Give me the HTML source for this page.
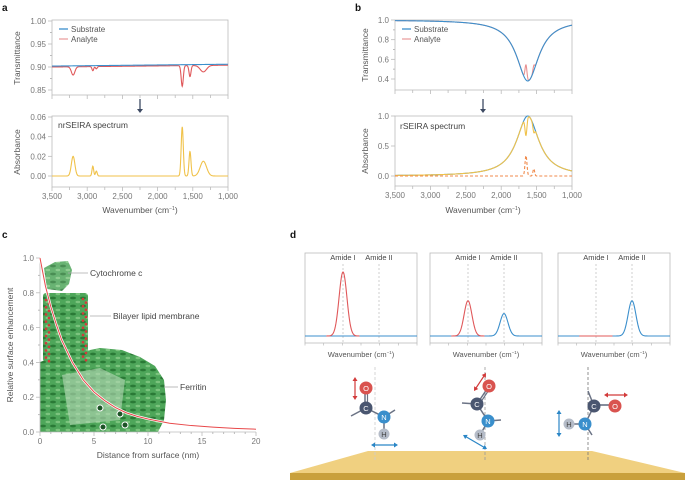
<!DOCTYPE html>
<html><head><meta charset="utf-8"><style>
html,body{margin:0;padding:0;background:#fff}
svg{display:block;font-family:"Liberation Sans",sans-serif}
</style></head><body>
<svg id="fig" width="685" height="480" viewBox="0 0 685 480"></svg>
<script>
// ---------- DATA ----------
const wnTicks=[3500,3000,2500,2000,1500,1000];
const wnTickLabels=["3,500","3,000","2,500","2,000","1,500","1,000"];
const aTransTicks=[0.85,0.90,0.95,1.00];
const aTransTickLabels=["0.85","0.90","0.95","1.00"];
const aAbsTicks=[0,0.02,0.04,0.06];
const aAbsTickLabels=["0.00","0.02","0.04","0.06"];
const aSubstrateStart=0.902, aSubstrateEnd=0.906;
const aPeakCenters=[3200,2920,2870,1650,1540,1350];
const aPeakAbs=[0.020,0.010,0.005,0.050,0.025,0.015];
const aPeakWidths=[25,12,12,15,14,45];
const aPeakTransDepth=[0.018,0.009,0.005,0.045,0.024,0.014];
const bTransTicks=[0.4,0.6,0.8,1.0];
const bTransTickLabels=["0.4","0.6","0.8","1.0"];
const bAbsTicks=[0,0.5,1.0];
const bAbsTickLabels=["0.0","0.5","1.0"];
const bResCenter=1625, bResWidth=190, bResDepth=0.62;
const bPeakCenters=[1650,1540];
const bPeakHeights=[0.34,0.12];
const bPeakWidths=[14,12];
const cDist=[0,0.5,1,1.5,2,3,4,5,6,7,8,9,10,12,14,16,18,20];
const cEnh=[1.0,0.84,0.72,0.62,0.53,0.40,0.30,0.23,0.18,0.14,0.11,0.09,0.075,0.05,0.037,0.028,0.021,0.016];
const cXTicks=[0,5,10,15,20];
const cYTicks=[0,0.2,0.4,0.6,0.8,1.0];
const cYTickLabels=["0.0","0.2","0.4","0.6","0.8","1.0"];
const dAmideI=[1.0,0.55,0.0];
const dAmideII=[0.0,0.35,0.55];

// ---------- HELPERS ----------
const NS="http://www.w3.org/2000/svg";
const svg=document.getElementById('fig');
function mk(tag,attrs,parent){const e=document.createElementNS(NS,tag);for(const k in attrs)e.setAttribute(k,attrs[k]);(parent||svg).appendChild(e);return e;}
function txt(x,y,s,size,anchor,fill,parent){const t=mk('text',{x:x,y:y,'font-size':size,'text-anchor':anchor||'start',fill:fill||'#555'},parent);t.textContent=s;return t;}
function lin(a,b,c,d){return v=>c+(v-a)/(b-a)*(d-c);}
function path(pts){return pts.map((p,i)=>(i?'L':'M')+p[0].toFixed(2)+' '+p[1].toFixed(2)).join(' ');}
function gauss(x,c,w){return Math.exp(-0.5*((x-c)/w)**2);}
function lor(x,c,w){return 1/(1+((x-c)/w)**2);}
const GREY='#bbb', TXT='#555', BLUE='#3b8fcc', RED='#e0585a', YEL='#f0c24a', ORA='#f08a4b';

function frame(x0,y0,x1,y1,name){const r=mk('rect',{x:x0,y:y0,width:x1-x0,height:y1-y0,fill:'none',stroke:GREY,'stroke-width':0.8});return r;}
function yAxis(X0,ys,ticks,labels,name){const g=mk('g',{});
 ticks.forEach((t,i)=>{const y=ys(t);mk('line',{x1:X0-4,x2:X0,y1:y,y2:y,stroke:GREY,'stroke-width':0.8},g);txt(X0-6,y+3,labels[i],8,'end','#777',g);});return g;}
function xAxis(xs,Y,ticks,labels,name,minor){const g=mk('g',{});
 ticks.forEach((t,i)=>{const x=xs(t);mk('line',{x1:x,x2:x,y1:Y,y2:Y+4,stroke:GREY,'stroke-width':0.8},g);if(labels)txt(x,Y+12,labels[i],8,'middle','#777',g);});
 if(minor)for(let i=0;i<ticks.length-1;i++){const x=(xs(ticks[i])+xs(ticks[i+1]))/2;mk('line',{x1:x,x2:x,y1:Y,y2:Y+3,stroke:GREY,'stroke-width':0.8},g);}return g;}
function curve(pts,color,name,dash,w){const p=mk('path',{d:path(pts),fill:'none',stroke:color,'stroke-width':w||1.1});if(dash)p.setAttribute('stroke-dasharray',dash);return p;}
function arrowDown(x,y0,y1){mk('line',{x1:x,x2:x,y1:y0,y2:y1-3,stroke:'#3d4a63','stroke-width':1.3});mk('path',{d:`M${x-3} ${y1-4} L${x+3} ${y1-4} L${x} ${y1} Z`,fill:'#3d4a63'});}
function legend(x,y){const g=mk('g',{});
 mk('line',{x1:x,x2:x+9,y1:y,y2:y,stroke:BLUE,'stroke-width':1.3},g);txt(x+12,y+3,'Substrate',8,'start',TXT,g);
 mk('line',{x1:x,x2:x+9,y1:y+10,y2:y+10,stroke:'#eba0a0','stroke-width':1.3},g);txt(x+12,y+13,'Analyte',8,'start',TXT,g);}
function sample(a,b,n){const r=[];for(let i=0;i<=n;i++)r.push(a+(b-a)*i/n);return r;}

[['a',2,11],['b',355,11],['c',2,238],['d',290,238]].forEach(l=>{const t=txt(l[1],l[2],l[0],10,'start','#111');t.setAttribute('font-weight','bold');});

// ---------- PANEL A ----------
(function(){
 const xs=lin(3500,1000,52,228);
 const yT=lin(1.0,0.85,21,90), yA=lin(0.06,0,117,176);
 frame(52,20,228,95,'a-top-frame');frame(52,116,228,187,'a-bottom-frame');
 yAxis(52,yT,aTransTicks,aTransTickLabels,'a-top-y-axis');
 [0.875,0.925,0.975].forEach(v=>mk('line',{x1:50,x2:52,y1:yT(v),y2:yT(v),stroke:GREY}));
 yAxis(52,yA,aAbsTicks,aAbsTickLabels,'a-bottom-y-axis');
 xAxis(xs,95,wnTicks,null,'a-top-x-axis',true);
 xAxis(xs,187,wnTicks,wnTickLabels,'a-bottom-x-axis',true);
 let t=txt(0,0,'Transmittance',8.5,'middle',TXT);t.setAttribute('transform','translate(20,58) rotate(-90)');
 t=txt(0,0,'Absorbance',8.5,'middle',TXT);t.setAttribute('transform','translate(20,152) rotate(-90)');
 const xt=txt(140,213,'',8.5,'middle',TXT);xt.innerHTML='Wavenumber (cm<tspan font-size="5" dy="-3">−1</tspan><tspan dy="3">)</tspan>';
 const W=sample(3500,1000,600);
 const sub=w=>aSubstrateStart+(aSubstrateEnd-aSubstrateStart)*(3500-w)/2500;
 curve(W.map(w=>{let v=sub(w)-0.002;aPeakCenters.forEach((c,i)=>v-=aPeakTransDepth[i]*gauss(w,c,aPeakWidths[i]));return [xs(w),yT(v)];}),RED,'a-analyte-line');
 curve(W.map(w=>[xs(w),yT(sub(w))]),BLUE,'a-substrate-line');
 curve(W.map(w=>{let v=0;aPeakCenters.forEach((c,i)=>v+=aPeakAbs[i]*gauss(w,c,aPeakWidths[i]));return [xs(w),yA(v)];}),YEL,'a-absorbance-line');
 legend(59,29);
 txt(58,128,'nrSEIRA spectrum',8.5,'start','#444');
 arrowDown(140,99,113);
})();

// ---------- PANEL B ----------
(function(){
 const xs=lin(3500,1000,395,572);
 const yT=lin(1.0,0.4,20,79), yA=lin(1.0,0,116,176);
 frame(395,20,572,90,'b-top-frame');frame(395,116,572,186,'b-bottom-frame');
 yAxis(395,yT,bTransTicks,bTransTickLabels,'b-top-y-axis');
 [0.5,0.7,0.9].forEach(v=>mk('line',{x1:393,x2:395,y1:yT(v),y2:yT(v),stroke:GREY}));
 yAxis(395,yA,bAbsTicks,bAbsTickLabels,'b-bottom-y-axis');
 xAxis(xs,90,wnTicks,null,'b-top-x-axis',true);
 xAxis(xs,186,wnTicks,wnTickLabels,'b-bottom-x-axis',true);
 let t=txt(0,0,'Transmittance',8.5,'middle',TXT);t.setAttribute('transform','translate(368,55) rotate(-90)');
 t=txt(0,0,'Absorbance',8.5,'middle',TXT);t.setAttribute('transform','translate(368,151) rotate(-90)');
 const xt=txt(483,213,'',8.5,'middle',TXT);xt.innerHTML='Wavenumber (cm<tspan font-size="5" dy="-3">−1</tspan><tspan dy="3">)</tspan>';
 const W=sample(3500,1000,900);
 const res=w=>bResDepth*lor(w,bResCenter,bResWidth);
 const mol=w=>{let v=0;bPeakCenters.forEach((c,i)=>v+=bPeakHeights[i]*gauss(w,c,bPeakWidths[i]));return v;};
 curve(W.map(w=>[xs(w),yT(Math.min(1,1-res(w)+0.45*mol(w)))]),'#e89090','b-analyte-line');
 curve(W.map(w=>[xs(w),yT(1-res(w))]),BLUE,'b-substrate-line');
 curve(W.map(w=>[xs(w),yA(res(w)/bResDepth)]),BLUE,'b-resonance-absorbance-line');
 curve(W.map(w=>[xs(w),yA(res(w)/bResDepth-0.9*mol(w))]),YEL,'b-absorbance-line');
 curve(W.map(w=>[xs(w),yA(mol(w))]),ORA,'b-molecular-absorbance-line','3,2');
 legend(402,29);
 txt(400,129,'rSEIRA spectrum',8.5,'start','#444');
 arrowDown(483,99,113);
})();

// ---------- PANEL C ----------
(function(){
 const xs=lin(0,20,40,256), ys=lin(0,1,432,258);
 const g=mk('g',{});
 const defs=mk('defs',{});
 const pat=mk('pattern',{id:'prot',width:10,height:8,patternUnits:'userSpaceOnUse'},defs);
 mk('rect',{width:10,height:8,fill:'#4ea65a'},pat);
 mk('ellipse',{cx:3,cy:2,rx:3,ry:1.4,fill:'#2a7a36'},pat);
 mk('ellipse',{cx:8,cy:6,rx:2.5,ry:1.2,fill:'#7cc47e'},pat);
 mk('path',{d:'M40 362 L60 355 L80 352 L100 348 L122 350 L140 357 L155 366 L164 380 L166 400 L164 420 L158 432 L40 432 Z',fill:'url(#prot)'},g);
 mk('path',{d:'M62 375 L100 368 L125 380 L120 420 L70 425 Z',fill:'#b8d8b8',opacity:0.6},g);
 [[100,408],[120,414],[103,427],[125,425]].forEach(p=>mk('circle',{cx:p[0],cy:p[1],r:3,fill:'#1c5426',stroke:'#fff','stroke-width':1},g));
 mk('rect',{x:43,y:293,width:45,height:69,rx:3,fill:'url(#prot)'},g);
 for(let i=0;i<18;i++){mk('circle',{cx:46+(i%2)*3,cy:300+i*3.6,r:1.3,fill:'#d23a3a'},g);mk('circle',{cx:83+(i%2)*3,cy:299+i*3.6,r:1.3,fill:'#d23a3a'},g);}
 mk('path',{d:'M44 268 L55 262 L68 261 L72 270 L69 284 L62 291 L47 289 Z',fill:'url(#prot)',opacity:0.85},g);
 mk('line',{x1:40,x2:40,y1:258,y2:432,stroke:GREY,'stroke-width':0.8});
 mk('line',{x1:40,x2:256,y1:432,y2:432,stroke:GREY,'stroke-width':0.8});
 yAxis(40,ys,cYTicks,cYTickLabels,'c-y-axis');
 [0.1,0.3,0.5,0.7,0.9].forEach(v=>mk('line',{x1:38,x2:40,y1:ys(v),y2:ys(v),stroke:GREY}));
 xAxis(xs,432,cXTicks,cXTicks.map(String),'c-x-axis',false);
 for(let v=1;v<20;v++)if(v%5)mk('line',{x1:xs(v),x2:xs(v),y1:432,y2:434,stroke:GREY});
 let t=txt(0,0,'Relative surface enhancement',8.5,'middle',TXT);t.setAttribute('transform','translate(13,345) rotate(-90)');
 txt(148,458,'Distance from surface (nm)',8.5,'middle',TXT);
 const pts=cDist.map((d,i)=>[xs(d),ys(cEnh[i])]);
 curve(pts,'#fff','c-curve-halo',null,2.4);
 curve(pts,'#e8484a','c-enhancement-curve',null,1);
 [['Cytochrome c',68,276,90],['Bilayer lipid membrane',90,319,113],['Ferritin',164,390,180]].forEach(l=>{
  mk('line',{x1:l[1],x2:l[3]-2,y1:l[2]-3,y2:l[2]-3,stroke:'#aaa','stroke-width':0.8});
  const tt=txt(l[3],l[2],l[0],8.5,'start','#444');});
})();

// ---------- PANEL D ----------
(function(){
 const frames=[305,430,558];
 frames.forEach((x0,k)=>{
  const x1=x0+112, y0=253, y1=343, base=336;
  frame(x0,y0,x1,y1,'d-spectrum-frame-'+(k+1));
  const xI=x0+38, xII=x0+74;
  const xs=lin(0,1,x0,x1), ys=lin(0,1,base,272);
  mk('line',{x1:xI,x2:xI,y1:264,y2:y1,stroke:'#bbb','stroke-dasharray':'2,2','stroke-width':0.7});
  mk('line',{x1:xII,x2:xII,y1:264,y2:y1,stroke:'#bbb','stroke-dasharray':'2,2','stroke-width':0.7});
  txt(xI,260,'Amide I',7.5,'middle','#444');txt(xII,260,'Amide II',7.5,'middle','#444');
  for(let i=0;i<=6;i++){const x=x0+i*112/6;mk('line',{x1:x,x2:x,y1:y1,y2:y1+2.5,stroke:GREY,'stroke-width':0.7});}
  const xt=txt((x0+x1)/2,357,'',7.5,'middle',TXT);xt.innerHTML='Wavenumber (cm<tspan font-size="4.5" dy="-3">−1</tspan><tspan dy="3">)</tspan>';
  const W=sample(0,1,300);
  const cI=(xI-x0)/112, cII=(xII-x0)/112;
  curve(W.map(w=>[xs(w),ys(dAmideII[k]*gauss(w,cII,0.035))]),BLUE,'d-amide-ii-peak-'+(k+1));
  curve(W.filter(w=>Math.abs(w-cI)<0.15).map(w=>[xs(w),ys(dAmideI[k]*gauss(w,cI,0.035))]),RED,'d-amide-i-peak-'+(k+1));
 });
 const s=mk('path',{d:'M290 473 L368 451 L592 451 L685 473 Z',fill:'#f0d080'});
 mk('rect',{x:290,y:473,width:395,height:7,fill:'#c9a03c'});
 [[375,'#ccc'],[485,'#999'],[588,'#777']].forEach(d=>mk('line',{x1:d[0],x2:d[0],y1:367,y2:462,stroke:d[1],'stroke-dasharray':'3,2','stroke-width':0.8}));
 function atom(x,y,l,c,n){const g=mk('g',{});mk('circle',{cx:x,cy:y,r:l=='H'?5.5:6.5,fill:c},g);txt(x,y+3,l,7.5,'middle',l=='H'?'#444':'#fff',g);}
 function bond(a,b,c,d,dbl){mk('line',{x1:a,y1:b,x2:c,y2:d,stroke:'#6b7385','stroke-width':1.5});if(dbl)mk('line',{x1:a+2.5,y1:b,x2:c+2.5,y2:d,stroke:'#6b7385','stroke-width':1.2});}
 function arr(x1,y1,x2,y2,c,n){const g=mk('g',{});
  const dx=x2-x1,dy=y2-y1,L=Math.hypot(dx,dy),ux=dx/L,uy=dy/L;mk('line',{x1:x1+ux*3,y1:y1+uy*3,x2:x2-ux*3,y2:y2-uy*3,stroke:c,'stroke-width':1.2},g);
  [[x1,y1,-1],[x2,y2,1]].forEach(e=>{const bx=e[0]-e[2]*ux*4,by=e[1]-e[2]*uy*4;mk('path',{d:`M${e[0]} ${e[1]} L${bx-uy*2.5} ${by+ux*2.5} L${bx+uy*2.5} ${by-ux*2.5} Z`,fill:c},g);});}
 bond(351,416,366,408);bond(366,408,384,417);bond(384,417,395,410);bond(384,417,384,434);bond(365,408,365,388,true);
 atom(366,388,'O','#d9534f','m1-oxygen');atom(366,408,'C','#4a5670','m1-carbon');atom(384,417,'N','#3a8fcc','m1-nitrogen');atom(384,434,'H','#b5bcc8','m1-hydrogen');
 arr(355,377,355,400,'#d23a3a','m1-co-arrow');arr(371,445,398,445,'#2a86c6','m1-nh-arrow');
 bond(462,403,477,404);bond(477,404,488,421);bond(488,421,501,420);bond(488,421,480,435);bond(477,404,489,386,true);
 atom(489,386,'O','#d9534f','m2-oxygen');atom(477,404,'C','#4a5670','m2-carbon');atom(488,421,'N','#3a8fcc','m2-nitrogen');atom(480,435,'H','#b5bcc8','m2-hydrogen');
 arr(474,391,486,373,'#d23a3a','m2-co-arrow');arr(463,435,487,449,'#2a86c6','m2-nh-arrow');
 bond(594,406,588,391);bond(594,406,585,424);bond(585,424,569,424);bond(585,424,592,435);bond(594,405,615,405,true);
 atom(615,406,'O','#d9534f','m3-oxygen');atom(594,406,'C','#4a5670','m3-carbon');atom(585,424,'N','#3a8fcc','m3-nitrogen');atom(569,424,'H','#b5bcc8','m3-hydrogen');
 arr(604,395,628,395,'#d23a3a','m3-co-arrow');arr(559,410,559,437,'#2a86c6','m3-nh-arrow');
})();
</script>
</body></html>
